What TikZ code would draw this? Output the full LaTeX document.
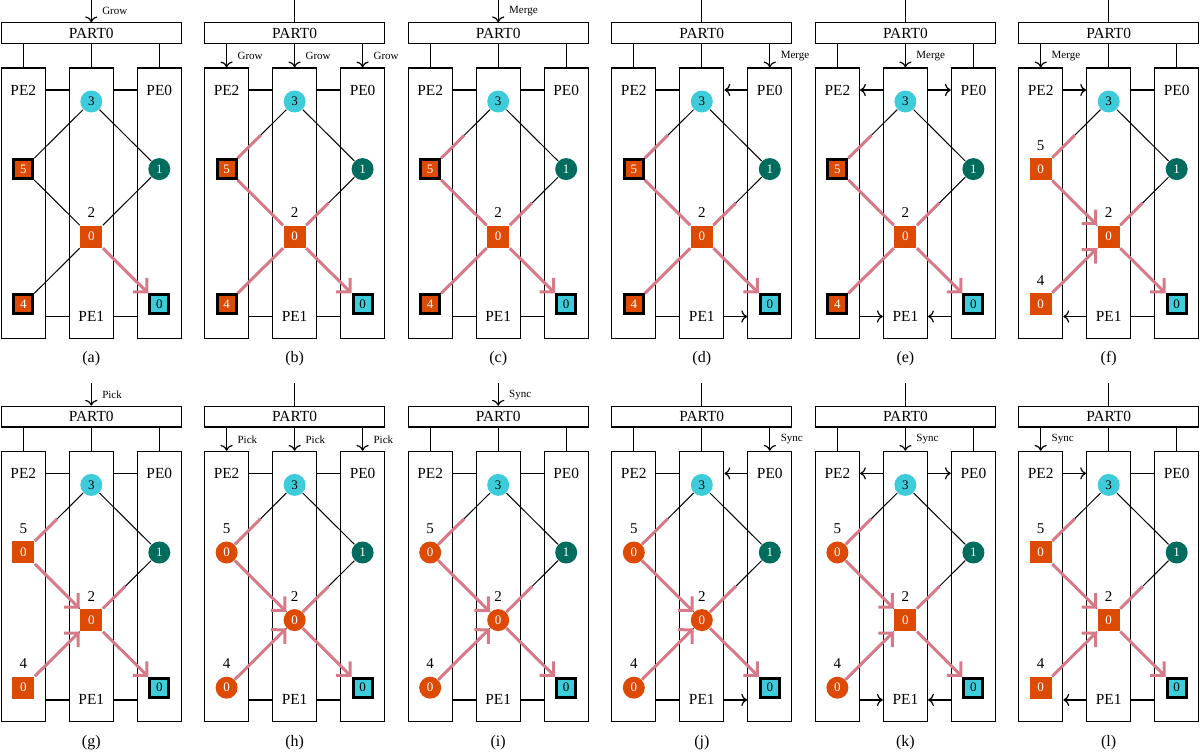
\documentclass[tikz,border=0pt]{standalone}
\usepackage{fontspec}
\setmainfont{Liberation Serif}
\usetikzlibrary{arrows.meta, calc, positioning}

\definecolor{orgc}{RGB}{221,74,4}
\definecolor{cyanc}{RGB}{62,204,219}
\definecolor{tealc}{RGB}{0,108,94}
\definecolor{pinkc}{RGB}{214,122,138}

\tikzset{
  box/.style={draw, line width=0.6pt, inner sep=0pt},
  part/.style={box, minimum width=90pt, minimum height=10.4pt},
  col/.style={box, minimum width=22pt, minimum height=135.2pt},
  wire/.style={line width=0.5pt},
  hot/.style={draw=pinkc, line width=1.5pt},
  barb/.style={-{Straight Barb[angle=90:7pt]}},
  vtx/.style={inner sep=0pt, minimum size=11pt, font=\fontsize{6.5}{7}\selectfont},
  bluev/.style={vtx, circle, fill=cyanc},
  greenv/.style={vtx, circle, fill=tealc, text=white},
  seedv/.style={vtx, rectangle, fill=cyanc, draw=black, line width=1.5pt, minimum size=9.5pt},
  sq/.style={vtx, rectangle, fill=orgc, text=white},
  boxed/.style={sq, draw=black, line width=1.5pt, minimum size=9.5pt, node contents=#1},
  plainsq/.style={sq, label=above:#1, node contents=0},
  disc/.style={vtx, circle, fill=orgc, text=white, label=above:#1, node contents=0},
  every label/.style={text=black, font=\fontsize{7.5}{9}\selectfont},
  tag/.style={midway, right=4.2pt, inner sep=1pt, font=\fontsize{5.5}{6}\selectfont},
  act/.style={->, edge node={node[tag]{#1}}},
  inlink/.style={}, down2/.style={}, down1/.style={}, down0/.style={},
  top2/.style={}, top0/.style={}, bot2/.style={}, bot0/.style={},
  leafv/.style={boxed=#1}, hubv/.style={plainsq=#1},
  trail/.style={hot}, feedin/.style={hot},
  merged/.style={leafv/.style={plainsq=##1}, feedin/.style={hot, barb}},
  synced/.style={merged, leafv/.style={disc=##1}},
  picked/.style={synced, hubv/.style={disc=##1}}
}

\newcommand{\panel}[4]{%
\begin{scope}[shift={(#2,#3)}, #4]
\node[part] (#1p) at (91,33.3) {PART0};
\node[col] (#1c2) at (23,203.2) {};
\node[col] (#1c1) at (91,203.2) {};
\node[col] (#1c0) at (159,203.2) {};
\node (#1l2) at (23,90) {PE2};
\node (#1l0) at (159,90) {PE0};
\node (#1l1) at (91,316.5) {PE1};
\node (#1cap) at (91,359) {\fontsize{8}{9}\selectfont(#1)};
\coordinate (#1in) at (91,0);
\path (#1in) edge[inlink] (#1p);
\path (#1p.south -| #1c2) edge[down2] (#1c2);
\path (#1p.south -| #1c1) edge[down1] (#1c1);
\path (#1p.south -| #1c0) edge[down0] (#1c0);
\path (#1c2.east |- #1l2) edge[top2] (#1c1.west |- #1l2);
\path (#1c1.east |- #1l0) edge[top0] (#1c0.west |- #1l0);
\path (#1c2.east |- #1l1) edge[bot2] (#1c1.west |- #1l1);
\path (#1c1.east |- #1l1) edge[bot0] (#1c0.west |- #1l1);
\node (#1n3) at (91,101.5) [bluev] {3};
\node (#1n1) at (159,169.1) [greenv] {1};
\node (#1n5) at (23,169.1) [leafv=5];
\node (#1n2) at (91,236.7) [hubv=2];
\node (#1n4) at (23,304.3) [leafv=4];
\node (#1n0) at (159,304.3) [seedv] {0};
\draw[wire] (#1n3) -- (#1n5) (#1n3) -- (#1n1) (#1n5) -- (#1n2) (#1n1) -- (#1n2) (#1n4) -- (#1n2);
\path[trail] (#1n5) -- ($(#1n5)!0.5!(#1n3)$);
\path[trail] (#1n2) -- ($(#1n2)!0.5!(#1n1)$);
\path[feedin] (#1n5) -- (#1n2);
\path[feedin] (#1n4) -- (#1n2);
\draw[hot, barb] (#1n2) -- (#1n0);
\end{scope}}

\begin{document}
\begin{tikzpicture}[x=0.5pt, y=-0.5pt, line width=0.6pt, font=\fontsize{7.7}{9}\selectfont]
\useasboundingbox (0,0) rectangle (1200,753);
\panel{a}{0.3}{0}{inlink/.style={act=Grow}, trail/.style={}, feedin/.style={}}
\panel{b}{203.6}{0}{down2/.style={act=Grow}, down1/.style={act=Grow}, down0/.style={act=Grow}}
\panel{c}{407.2}{0}{inlink/.style={act=Merge}}
\panel{d}{610.8}{0}{down0/.style={act=Merge}, top0/.style={<-}, bot0/.style={->}}
\panel{e}{814.4}{0}{down1/.style={act=Merge}, top2/.style={<-}, top0/.style={->}, bot2/.style={->}, bot0/.style={<-}}
\panel{f}{1017.7}{0}{down2/.style={act=Merge}, top2/.style={->}, bot2/.style={<-}, merged}
\panel{g}{0.3}{383.4}{inlink/.style={act=Pick}, merged}
\panel{h}{203.6}{383.4}{down2/.style={act=Pick}, down1/.style={act=Pick}, down0/.style={act=Pick}, picked}
\panel{i}{407.2}{383.4}{inlink/.style={act=Sync}, picked}
\panel{j}{610.8}{383.4}{down0/.style={act=Sync}, top0/.style={<-}, bot0/.style={->}, picked}
\panel{k}{814.4}{383.4}{down1/.style={act=Sync}, top2/.style={<-}, top0/.style={->}, bot2/.style={->}, bot0/.style={<-}, synced}
\panel{l}{1017.7}{383.4}{down2/.style={act=Sync}, top2/.style={->}, bot2/.style={<-}, merged}
\end{tikzpicture}
\end{document}
